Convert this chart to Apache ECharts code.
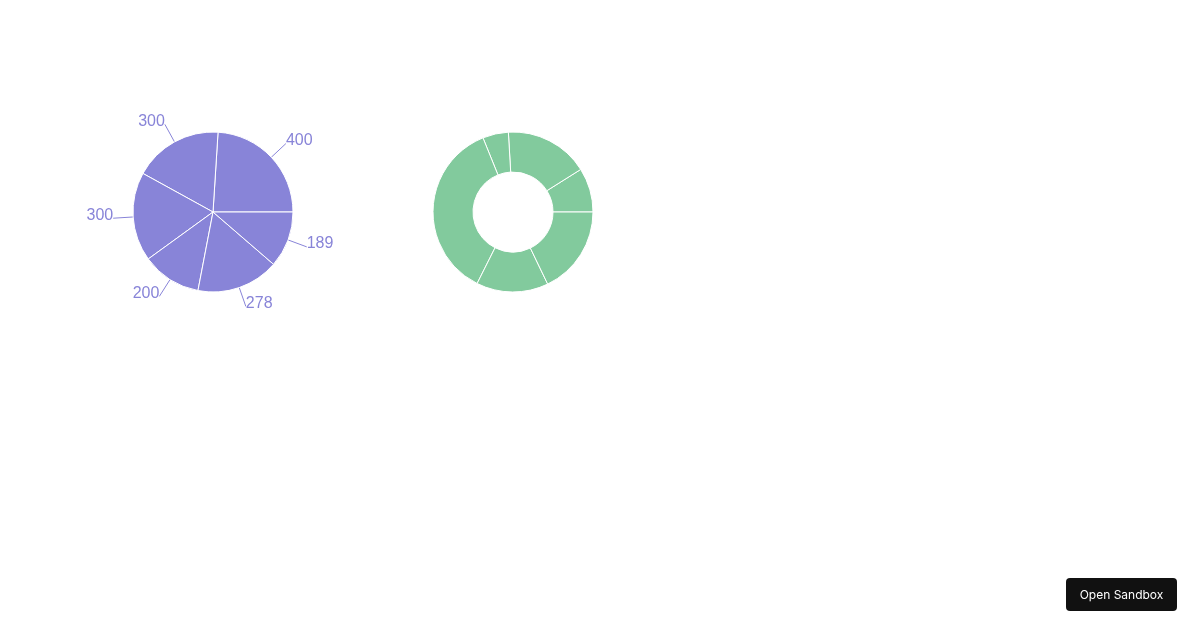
<!DOCTYPE html>
<html>
<head>
<meta charset="utf-8">
<script src="https://cdn.jsdelivr.net/npm/echarts@6/dist/echarts.min.js"></script>
<style>
  html, body { margin: 0; padding: 0; background: #fff; }
  #main { width: 1200px; height: 630px; }
</style>
</head>
<body>
<div id="main"></div>
<script>
// two simple pies
let names01 = ['Group A', 'Group B', 'Group C', 'Group D', 'Group E', 'Group F'];
let values01 = [400, 300, 300, 200, 278, 189];
let names02 = ['Group A', 'Group B', 'Group C', 'Group D', 'Group E', 'Group F'];
let values02 = [2400, 4567, 1398, 9800, 3908, 4800];

let myChart = echarts.init(document.getElementById('main'));

let option = {
    animation: false,
    series: [
        {
            name: 'pie1',
            type: 'pie',
            center: [213, 212],
            radius: [0, 80],
            startAngle: 0,
            clockwise: false,
            avoidLabelOverlap: false,
            data: names01.map(function (n, i) {
                return { name: n, value: values01[i] };
            }),
            itemStyle: {
                color: '#8884d8',
                borderColor: '#fff',
                borderWidth: 1
            },
            label: {
                show: true,
                formatter: '{c}',
                color: '#8884d8',
                fontFamily: 'Liberation Sans',
                fontSize: 16,
                distanceToLabelLine: 0
            },
            labelLayout: { dy: -3 },
            labelLine: {
                show: true,
                length: 20,
                length2: 0,
                lineStyle: { color: '#8884d8', width: 1 }
            },
            emphasis: { disabled: true }
        },
        {
            name: 'pie2',
            type: 'pie',
            center: [513, 212],
            radius: [40, 80],
            startAngle: 0,
            clockwise: false,
            data: names02.map(function (n, i) {
                return { name: n, value: values02[i] };
            }),
            itemStyle: {
                color: '#82ca9d',
                borderColor: '#fff',
                borderWidth: 1
            },
            label: { show: false },
            labelLine: { show: false },
            emphasis: { disabled: true }
        }
    ],
    graphic: [
        {
            type: 'group',
            left: 1066,
            top: 578,
            children: [
                {
                    type: 'rect',
                    shape: { x: 0, y: 0, width: 111, height: 33, r: 4 },
                    style: { fill: '#111111' }
                },
                {
                    type: 'text',
                    x: 55.5,
                    y: 17,
                    style: {
                        text: 'Open Sandbox',
                        fill: '#ffffff',
                        font: '12px Inter',
                        align: 'center',
                        verticalAlign: 'middle'
                    }
                }
            ]
        }
    ]
};
myChart.setOption(option);
</script>
</body>
</html>
